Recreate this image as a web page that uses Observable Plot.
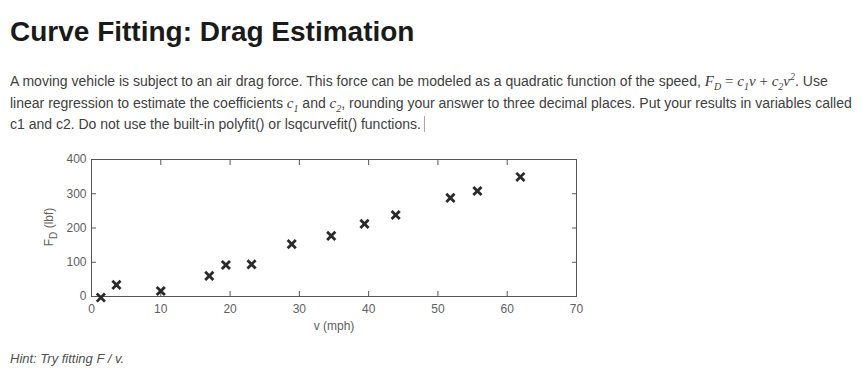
<!DOCTYPE html>
<html>
<head>
<meta charset="utf-8">
<script src="https://cdn.jsdelivr.net/npm/d3@7"></script>
<script src="https://cdn.jsdelivr.net/npm/@observablehq/plot@0.6"></script>
<style>
  html, body { margin: 0; padding: 0; background: #fff; }
  body { width: 865px; height: 375px; overflow: hidden; position: relative; font-family: "Liberation Sans", Arial, sans-serif; }
  h1 { position: absolute; left: 10px; top: 16px; margin: 0; font-size: 28px; line-height: 32px; font-weight: bold; color: #1a1a1a; }
  #desc { position: absolute; left: 10px; top: 71px; width: 860px; margin: 0; font-size: 14px; line-height: 21.5px; color: #404040; white-space: nowrap; }
  #desc .m { font-family: "Liberation Serif", "Times New Roman", serif; font-style: italic; font-size: 15px; }
  #desc sub, #desc sup { font-size: 10px; line-height: 0; }
  .cursor { display: inline-block; width: 1px; height: 16px; background: #aaa; vertical-align: -3px; margin-left: 3px; line-height: 0; }
  #chart { position: absolute; left: 0; top: 150px; }
  #hint { position: absolute; left: 10px; top: 351px; font-size: 13px; font-style: italic; color: #505050; }
</style>
</head>
<body>
<h1>Curve Fitting: Drag Estimation</h1>
<p id="desc">A moving vehicle is subject to an air drag force. This force can be modeled as a quadratic function of the speed, <span class="m">F<sub>D</sub>&#8201;=&#8201;c<sub>1</sub>v&#8201;+&#8201;c<sub>2</sub>v<sup>2</sup></span>. Use<br>linear regression to estimate the coefficients <span class="m">c<sub>1</sub></span> and <span class="m">c<sub>2</sub></span>, rounding your answer to three decimal places. Put your results in variables called<br>c1 and c2. Do not use the built-in polyfit() or lsqcurvefit() functions.<span class="cursor"></span></p>
<div id="chart"></div>
<div id="hint">Hint: Try fitting F / v.</div>
<script>
const speed = [1.35, 3.6, 10.0, 17.0, 19.4, 23.1, 28.9, 34.6, 39.4, 43.9, 51.8, 55.7, 61.9];
const drag  = [-3, 34, 16, 60, 92, 94, 153, 177, 212, 238, 288, 308, 349];
const xTicks = [0, 10, 20, 30, 40, 50, 60, 70];
const yTicks = [0, 100, 200, 300, 400];

const data = speed.map((v, i) => ({v, F: drag[i]}));
const axisColor = "#555";

const plot = Plot.plot({
  width: 600,
  height: 185,
  marginLeft: 91,
  marginRight: 24,
  marginTop: 9,
  marginBottom: 39,
  style: { fontFamily: "Liberation Sans, Arial, sans-serif", fontSize: "12px", color: "#555", background: "white" },
  x: { domain: [0, 70], ticks: xTicks },
  y: { domain: [0, 400], ticks: yTicks },
  marks: [
    Plot.frame({ stroke: "#555", strokeWidth: 1 }),
    Plot.axisX(xTicks, { anchor: "bottom", tickSize: -5, tickPadding: 13, stroke: axisColor, fill: "#606060", label: "v (mph)", labelAnchor: "center", labelArrow: "none", labelOffset: 33 }),
    Plot.axisX(xTicks, { anchor: "top", tickSize: -5, tickFormat: () => "", stroke: axisColor, label: null }),
    Plot.axisY(yTicks, { anchor: "left", tickSize: -5, tickPadding: 10, stroke: axisColor, fill: "#606060", label: null }),
    Plot.axisY(yTicks, { anchor: "right", tickSize: -5, tickFormat: () => "", stroke: axisColor, label: null }),
    Plot.dot(data, { x: "v", y: "F", symbol: "times", r: 3.8, stroke: "#2a2a2a", strokeWidth: 2.8 })
  ]
});
document.getElementById("chart").appendChild(plot);

// y-axis label with subscript
const svg = d3.select(plot);
const lab = svg.append("text")
  .attr("transform", "translate(53,77) rotate(-90)")
  .attr("text-anchor", "middle")
  .attr("fill", "#606060")
  .attr("font-size", "12px");
lab.append("tspan").text("F");
lab.append("tspan").attr("font-size", "10px").attr("dy", "4").text("D");
lab.append("tspan").attr("dy", "-4").text(" (lbf)");
</script>
</body>
</html>
